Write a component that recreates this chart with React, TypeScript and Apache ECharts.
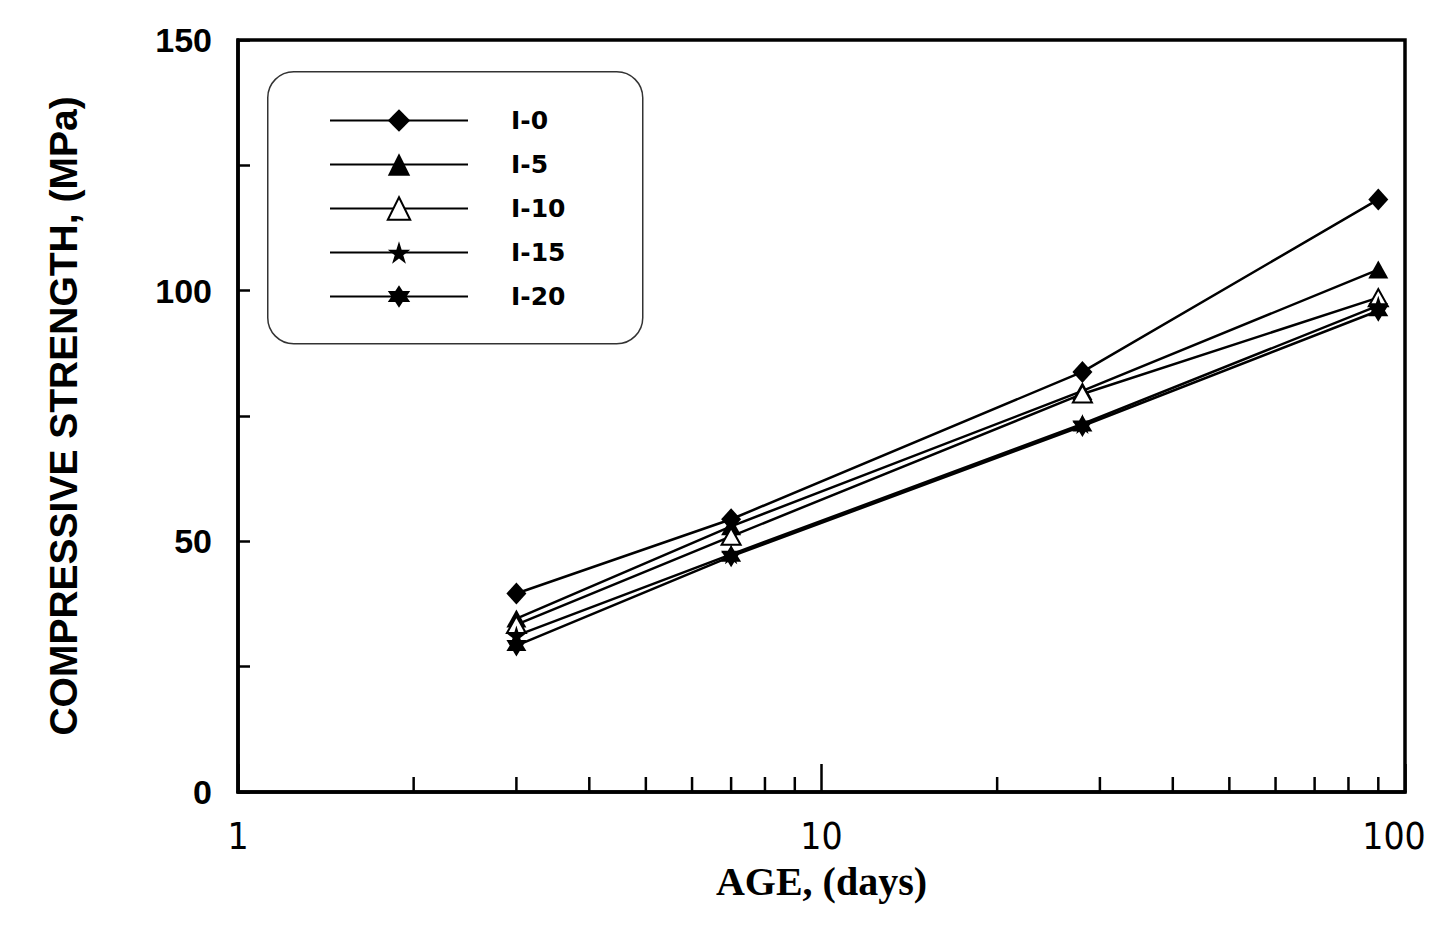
import React, { useEffect, useRef } from "react";
import * as echarts from "echarts";

// Curing ages (days) and compressive strength (MPa) per mix
const ages = [3, 7, 28, 90];
const seriesNames = ["I-0", "I-5", "I-10", "I-15", "I-20"];
const strengthI0 = [39.6, 54.4, 83.8, 118.2];
const strengthI5 = [34.6, 53.0, 80.0, 104.2];
const strengthI10 = [33.4, 51.0, 79.4, 98.6];
const strengthI15 = [31.2, 47.4, 73.4, 97.0];
const strengthI20 = [29.2, 47.0, 73.0, 96.0];

// Intermediate log-decade ticks on the age axis
const minorAgeTicks = [2, 3, 4, 5, 6, 7, 8, 9, 20, 30, 40, 50, 60, 70, 80, 90];
// Strength values that carry a label on the y axis
const yTickLabels = [0, 50, 100, 150];
// Largest age on the axis (its label is nudged inward to stay on the page)
const ageAxisMax = 100;

const STAR5 =
  "path://M50,0 L61.2,34.5 L97.6,34.5 L68.2,55.9 L79.4,90.5 L50,69.1 L20.6,90.5 L31.8,55.9 L2.4,34.5 L38.8,34.5 Z";
const STAR6 =
  "path://M50,0 L64.4,25 L93.3,25 L78.9,50 L93.3,75 L64.4,75 L50,100 L35.6,75 L6.7,75 L21.1,50 L6.7,25 L35.6,25 Z";

const markerDefs = [
  { symbol: "diamond", size: [20, 22] },
  { symbol: "triangle", size: [20, 18] },
  { symbol: "emptyTriangle", size: [19, 17] },
  { symbol: STAR5, size: [20, 20] },
  { symbol: STAR6, size: [20, 22] },
];

const strengthSets = [strengthI0, strengthI5, strengthI10, strengthI15, strengthI20];

const AXIS_FONT = "'Liberation Sans Narrow', 'DejaVu Sans Condensed', 'Liberation Sans', sans-serif";

export default function App() {
  const ref = useRef<HTMLDivElement>(null);

  useEffect(() => {
    if (!ref.current) return;
    const chart = echarts.init(ref.current, null, { renderer: "svg" });

    const lineSeries = seriesNames.map((name, i) => ({
      name,
      type: "line",
      data: ages.map((a, j) => [a, strengthSets[i][j]]),
      symbol: markerDefs[i].symbol,
      symbolSize: markerDefs[i].size,
      showAllSymbol: true,
      color: "#000",
      lineStyle: { color: "#000", width: 2.5 },
      itemStyle: { color: "#000", borderColor: "#000", borderWidth: i === 2 ? 2 : 0 },
      z: 3 + i,
    }));

    const option: any = {
      animation: false,
      backgroundColor: "#fff",
      grid: {
        left: 238,
        top: 40,
        right: 25,
        bottom: 138,
        outerBoundsMode: "none",
        containLabel: false,
        show: true,
        borderColor: "#000",
        borderWidth: 3.5,
        backgroundColor: "transparent",
      },
      graphic: [
        {
          type: "rect",
          left: 267,
          top: 71,
          shape: { width: 375, height: 272, r: 26 },
          style: { fill: "#fff", stroke: "#333", lineWidth: 1.5 },
          z: 10,
        },
      ],
      legend: {
        data: seriesNames,
        orient: "vertical",
        left: 267,
        top: 71,
        padding: [37, 10, 10, 62],
        itemWidth: 138,
        itemHeight: 28,
        itemGap: 19,
        z: 20,
        textStyle: {
          fontFamily: "'DejaVu Sans', sans-serif",
          fontSize: 25,
          fontWeight: "bold",
          color: "#000",
          padding: [0, 0, 0, 38],
        },
      },
      xAxis: {
        type: "log",
        logBase: 10,
        min: 1,
        max: ageAxisMax,
        name: "AGE, (days)",
        nameLocation: "middle",
        nameGap: 69,
        nameTextStyle: {
          fontFamily: "'Liberation Serif', 'Times New Roman', serif",
          fontWeight: "bold",
          fontSize: 40,
          color: "#000",
        },
        axisLine: { show: true, lineStyle: { color: "#000", width: 3.5 } },
        axisTick: { show: true, inside: true, length: 28, lineStyle: { color: "#000", width: 2.5 } },
        axisLabel: {
          margin: 26,
          fontFamily: AXIS_FONT,
          fontSize: 37,
          color: "#000",
          formatter: (v: number) => (v === ageAxisMax ? `{edge|${v}}` : String(v)),
          rich: {
            edge: {
              fontFamily: AXIS_FONT,
              fontSize: 37,
              color: "#000",
              padding: [0, 22, 0, 0],
            },
          },
        },
        splitLine: { show: false },
      },
      yAxis: {
        type: "value",
        min: 0,
        max: 150,
        interval: 25,
        name: "COMPRESSIVE STRENGTH, (MPa)",
        nameLocation: "middle",
        nameGap: 155,
        nameRotate: 90,
        nameTextStyle: {
          fontFamily: "'Liberation Sans', Arial, sans-serif",
          fontWeight: "bold",
          fontSize: 39,
          color: "#000",
        },
        axisLine: { show: true, lineStyle: { color: "#000", width: 3.5 } },
        axisTick: { show: true, inside: true, length: 12, lineStyle: { color: "#000", width: 2.5 } },
        axisLabel: {
          margin: 26,
          fontFamily: "'Liberation Sans', Arial, sans-serif",
          fontWeight: "bold",
          fontSize: 34,
          color: "#000",
          formatter: (v: number) => (yTickLabels.includes(v) ? String(v) : ""),
        },
        splitLine: { show: false },
      },
      series: [
        ...lineSeries,
        {
          name: "minorTicks",
          type: "custom",
          silent: true,
          clip: false,
          data: minorAgeTicks.map((v) => [v, 0]),
          encode: { x: 0, y: 1 },
          renderItem: (_params: any, api: any) => {
            const p = api.coord([api.value(0), 0]);
            return {
              type: "line",
              shape: { x1: p[0], y1: p[1], x2: p[0], y2: p[1] - 15 },
              style: { stroke: "#000", lineWidth: 2.5 },
            };
          },
          z: 2,
        },
      ],
    };

    chart.setOption(option);
    return () => chart.dispose();
  }, []);

  return (
    <div
      ref={ref}
      style={{ position: "fixed", left: 0, top: 0, width: 1430, height: 930, background: "#fff" }}
    />
  );
}
